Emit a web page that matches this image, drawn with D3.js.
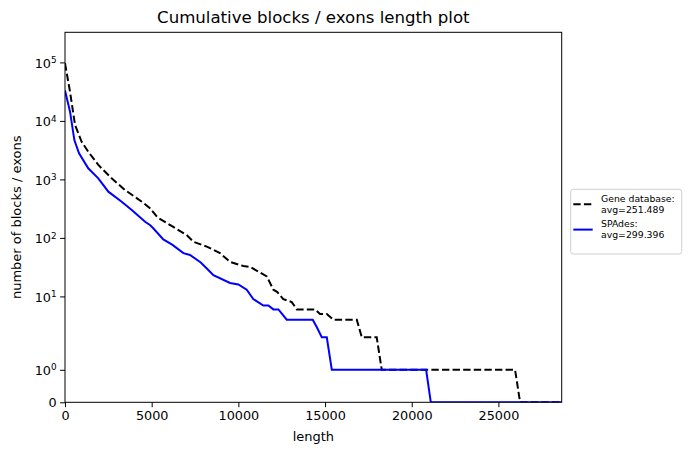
<!DOCTYPE html>
<html>
<head>
<meta charset="utf-8">
<script src="https://cdn.jsdelivr.net/npm/d3@7"></script>
<style>
  body { margin: 0; background: #fff; }
  svg { font-family: "DejaVu Sans", sans-serif; }
  .tick line { stroke: #000; }
  .tick text { fill: #000; }
</style>
</head>
<body>
<svg id="chart" width="691" height="455"></svg>
<script>
// values
const geneLengths = [0, 290, 580, 960, 1340, 1920, 2690, 3460, 4430, 4900, 5340, 6200, 7020, 7400, 8180,
  8940, 9520, 10290, 10670, 11640, 12020, 12230, 12590, 13080, 13370, 14420, 14710, 15100, 15480, 16830,
  17120, 17980, 18270, 25960, 26250, 28650];
const geneCounts = [96600, 31500, 8500, 4400, 2980, 1770, 1045, 660, 416, 321, 223, 157, 112, 86, 71,
  55, 39, 33, 32, 22, 13, 12, 9, 8, 6, 6, 5, 5, 4, 4,
  2, 2, 1, 1, 0, 0];

const spadesLengths = [0, 290, 540, 810, 1340, 1920, 2500, 3270, 3850, 4620, 4900, 5090, 5670, 6200, 6830,
  7210, 7830, 8180, 8560, 9520, 10000, 10480, 10860, 11440, 11730, 12020, 12310, 12790, 14290, 14520,
  14810, 15100, 15390, 20830, 21100, 28650];
const spadesCounts = [33000, 14400, 4700, 2800, 1550, 1045, 617, 416, 300, 189, 166, 146, 94, 76, 55,
  51, 38, 30, 23, 17, 16, 13, 9, 7, 7, 6, 6, 4, 4, 3,
  2, 2, 1, 1, 0, 0];

const xTicks = [0, 5000, 10000, 15000, 20000, 25000];
const yTicks = [0, 1, 10, 100, 1000, 10000, 100000];
const legendLabels = [["Gene database:", "avg=251.489"], ["SPAdes:", "avg=299.396"]];

const xMax = 28650;
const yMax = 327000;

// matplotlib style symlog, linthresh = 2, linscale = 1
const linthresh = 2;
const linscaleAdj = 1 / (1 - 1 / 10);
function symlog(v) {
  if (v <= linthresh) return v * linscaleAdj;
  return linthresh * (linscaleAdj + Math.log10(v / linthresh));
}

const plotLeft = 65, plotRight = 561.7, plotTop = 32.3, plotBottom = 402.3;

const svg = d3.select("#chart");

const x = d3.scaleLinear().domain([0, xMax]).range([plotLeft, plotRight]);
const yT = d3.scaleLinear().domain([0, symlog(yMax)]).range([plotBottom, plotTop]);
const y = v => yT(symlog(v));

svg.append("rect").attr("width", 691).attr("height", 455).attr("fill", "#fff");

svg.append("clipPath").attr("id", "plot-clip")
  .append("rect")
  .attr("x", plotLeft).attr("y", plotTop)
  .attr("width", plotRight - plotLeft).attr("height", plotBottom - plotTop);

const line = d3.line()
  .x(d => x(d[0]))
  .y(d => y(d[1]));

const plot = svg.append("g").attr("clip-path", "url(#plot-clip)");

plot.append("path")
  .datum(d3.zip(geneLengths, geneCounts))
  .attr("d", line)
  .attr("fill", "none")
  .attr("stroke", "#000")
  .attr("stroke-width", 2)
  .attr("stroke-dasharray", "7.4,3.2");

plot.append("path")
  .datum(d3.zip(spadesLengths, spadesCounts))
  .attr("d", line)
  .attr("fill", "none")
  .attr("stroke", "#0000ff")
  .attr("stroke-width", 2);

// frame
svg.append("rect")
  .attr("x", plotLeft).attr("y", plotTop)
  .attr("width", plotRight - plotLeft).attr("height", plotBottom - plotTop)
  .attr("fill", "none")
  .attr("stroke", "#000")
  .attr("stroke-width", 1);

// x axis
const xAxis = svg.append("g")
  .attr("transform", `translate(0,${plotBottom})`)
  .call(d3.axisBottom(x).tickValues(xTicks).tickFormat(d3.format("d"))
    .tickSize(4.9).tickPadding(3.5).tickSizeOuter(0));
xAxis.select(".domain").remove();
xAxis.selectAll("text").attr("font-size", "12.8px").attr("font-family", "DejaVu Sans");

// y axis
const yAxis = svg.append("g")
  .attr("transform", `translate(${plotLeft},0)`)
  .call(d3.axisLeft(yT).tickValues(yTicks.map(symlog)).tickFormat("")
    .tickSize(4.9).tickPadding(3.5).tickSizeOuter(0));
yAxis.select(".domain").remove();

yAxis.selectAll(".tick").each(function(d, i) {
  const v = yTicks[i];
  const t = d3.select(this).select("text")
    .attr("font-size", "12.8px")
    .attr("font-family", "DejaVu Sans")
    .attr("dy", "0.36em")
    .text(null);
  if (v === 0) {
    t.text("0");
  } else {
    t.append("tspan").text("10");
    t.append("tspan")
      .attr("font-size", "8.8px")
      .attr("dy", "-4.5")
      .text(String(Math.round(Math.log10(v))));
  }
});

// title and axis labels
svg.append("text")
  .attr("x", (plotLeft + plotRight) / 2).attr("y", 22.7)
  .attr("text-anchor", "middle")
  .attr("font-size", "16.6px")
  .text("Cumulative blocks / exons length plot");

svg.append("text")
  .attr("x", (plotLeft + plotRight) / 2).attr("y", 441)
  .attr("text-anchor", "middle")
  .attr("font-size", "13px")
  .text("length");

svg.append("text")
  .attr("transform", `translate(20.5,${(plotTop + plotBottom) / 2}) rotate(-90)`)
  .attr("text-anchor", "middle")
  .attr("font-size", "13px")
  .text("number of blocks / exons");

// legend
const legend = svg.append("g");
legend.append("rect")
  .attr("x", 570.7).attr("y", 189.3)
  .attr("width", 111).attr("height", 64.7)
  .attr("rx", 2.5)
  .attr("fill", "#fff")
  .attr("stroke", "#d0d0d0")
  .attr("stroke-width", 1);

const legendStyles = [
  { stroke: "#000", dash: "7.4,3.2" },
  { stroke: "#0000ff", dash: null }
];

legendLabels.forEach((lines, i) => {
  const base = 201.7 + i * 25.3;
  legend.append("line")
    .attr("x1", 573.3).attr("x2", 592.7)
    .attr("y1", base + 2.6).attr("y2", base + 2.6)
    .attr("stroke", legendStyles[i].stroke)
    .attr("stroke-width", 2)
    .attr("stroke-dasharray", legendStyles[i].dash);
  lines.forEach((txt, j) => {
    legend.append("text")
      .attr("x", 601).attr("y", base + j * 11.2)
      .attr("font-size", "9.3px")
      .text(txt);
  });
});
</script>
</body>
</html>
